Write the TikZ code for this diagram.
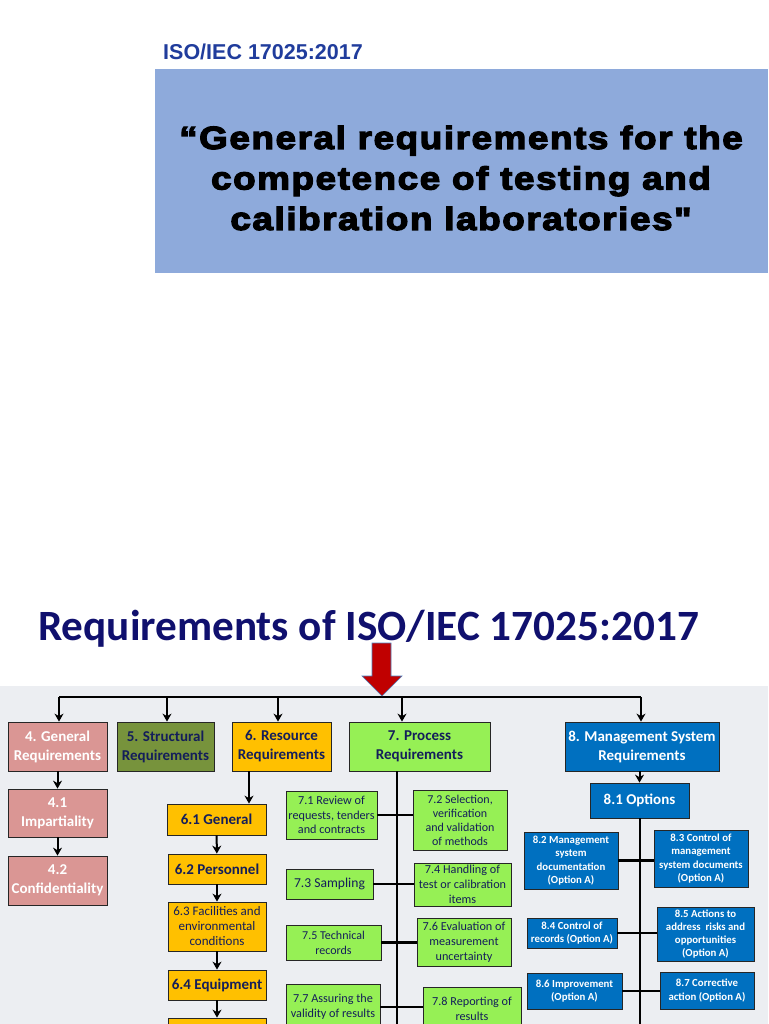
\documentclass[tikz,border=0pt]{standalone}
\usepackage{fontspec}
\setmainfont{Carlito}
\newfontfamily\arialfont{Liberation Sans}
\newfontfamily\quotefont{Liberation Sans Bold}[FakeStretch=1.15, FakeBold=4, LetterSpace=5]
\usetikzlibrary{arrows.meta}
\definecolor{isoblue}{RGB}{32,60,156}
\definecolor{headbg}{RGB}{142,170,219}
\definecolor{titlenavy}{RGB}{16,16,110}
\definecolor{boxnavy}{RGB}{20,30,90}
\definecolor{pinkbox}{RGB}{218,150,148}
\definecolor{olivebox}{RGB}{119,147,60}
\definecolor{amberbox}{RGB}{255,192,0}
\definecolor{greenbox}{RGB}{150,240,85}
\definecolor{bluebox}{RGB}{0,112,192}
\definecolor{arrowred}{RGB}{192,0,0}
\definecolor{arrowedge}{RGB}{79,129,189}
\definecolor{cloudbg}{RGB}{236,238,242}

\begin{document}
\begin{tikzpicture}[x=1pt, y=-1pt,
		box/.style={draw=black!85, line width=0.8pt, inner sep=1pt, align=center},
		sz/.style 2 args={minimum width=#1, minimum height=#2},
		pinkbx/.style={box, fill=pinkbox, text=white},
		olivebx/.style={box, fill=olivebox, text=boxnavy},
		amberbx/.style={box, fill=amberbox, text=boxnavy},
		greenbx/.style={box, fill=greenbox, text=boxnavy},
		bluebx/.style={box, fill=bluebox, text=white},
		big/.style={font=\bfseries\fontsize{15}{19}\selectfont},
		plain/.style={font=\fontsize{12.2}{14.8}\selectfont},
		tiny/.style={font=\bfseries\fontsize{10.8}{13.3}\selectfont},
		arr/.style={line width=2pt, -{Stealth[length=8pt, width=9pt]}},
		conn/.style={line width=2.8pt}]
		%%%%% START %%%%%
		
		\useasboundingbox (0,0) rectangle (768,1024);
		\clip (0,0) rectangle (768,1024);
		\fill[white] (0,0) rectangle (768,1024);
		\fill[cloudbg] (0,686) rectangle (768,1024);
		
		% header
		\node[anchor=base west, text=isoblue, font=\arialfont\bfseries\fontsize{21.5}{24}\selectfont, inner sep=0] (isotag) at (163,60) {ISO/IEC 17025:2017};
		\node[fill=headbg, anchor=north west, minimum width=613, minimum height=204, inner sep=0] (headbox) at (155,69) {};
		\node[align=center, font=\quotefont\fontsize{32}{40.5}\selectfont] (quote) at (461,178) {“General requirements for the\\competence of testing and\\calibration laboratories"};
		
		% title
		\node[anchor=base west, text=titlenavy, font=\bfseries\fontsize{43.2}{50}\selectfont, inner sep=0] (title) at (38,640) {Requirements of ISO/IEC 17025:2017};
		
		% bus and red arrow
		\coordinate (b4) at (59,697);
		\coordinate (b5) at (167,697);
		\coordinate (b6) at (278,697);
		\coordinate (b7) at (402,697);
		\coordinate (b8) at (641,697);
		\draw[line width=1.8pt] (b4) -- (b8);
		\fill[arrowred, draw=arrowedge, line width=0.6pt] (372,643) -- (391,643) -- (391,676) -- (402,676) -- (382,696) -- (362,676) -- (372,676) -- cycle;
		
		% clause 4
		\node[pinkbx, big, sz={99}{49}] (r4) at (57.5,746.5) {4. General\\Requirements};
		\node[pinkbx, big, sz={99}{48}] (r41) at (57.5,813) {4.1\\Impartiality};
		\node[pinkbx, big, sz={99}{49}] (r42) at (57.5,880.5) {4.2\\Confidentiality};
		
		% clause 5
		\node[olivebx, big, sz={97}{49}] (r5) at (165.5,746.5) {5. Structural\\Requirements};
		
		% clause 6
		\node[amberbx, big, sz={99}{49}] (r6) at (281.5,746.5) {6. Resource\\Requirements};
		\node[amberbx, big, sz={99}{31}] (r61) at (216.5,819.5) {6.1 General};
		\node[amberbx, big, sz={98}{30}] (r62) at (217,869) {6.2 Personnel};
		\node[amberbx, font=\fontsize{13}{15}\selectfont, sz={98}{49}] (r63) at (217,926.5) {6.3 Facilities and\\environmental\\conditions};
		\node[amberbx, big, sz={98}{30}] (r64) at (217,985) {6.4 Equipment};
		\node[amberbx, sz={98}{32}] (r65) at (217,1034) {};
		
		% clause 7
		\node[greenbx, big, sz={141}{49}] (r7) at (419.5,746.5) {7. Process\\Requirements};
		\node[greenbx, plain, sz={91}{48}] (r71) at (331.5,815) {7.1 Review of\\requests, tenders\\and contracts};
		\node[greenbx, font=\fontsize{12}{14}\selectfont, sz={94}{60}] (r72) at (460,820) {7.2 Selection,\\verification\\and validation\\of methods};
		\node[greenbx, font=\fontsize{13.6}{15}\selectfont, sz={87}{30}] (r73) at (329.5,884) {7.3 Sampling};
		\node[greenbx, plain, sz={97}{43}] (r74) at (462.5,884.5) {7.4 Handling of\\test or calibration\\items};
		\node[greenbx, font=\fontsize{12}{15}\selectfont, sz={95}{35}] (r75) at (333.5,942.5) {7.5 Technical\\records};
		\node[greenbx, plain, sz={94}{48}] (r76) at (464,942) {7.6 Evaluation of\\measurement\\uncertainty};
		\node[greenbx, plain, sz={94}{46}] (r77) at (333,1007) {7.7 Assuring the\\validity of results};
		\node[greenbx, plain, sz={98}{43}] (r78) at (472,1008.5) {7.8 Reporting of\\results};
		
		% clause 8
		\node[bluebx, big, sz={154}{49}] (r8) at (642,746.5) {8. Management System\\Requirements};
		\node[bluebx, big, sz={99}{35}] (r81) at (639.5,800.5) {8.1 Options};
		\node[bluebx, tiny, sz={94}{57}] (r82) at (571,860.5) {8.2 Management\\system\\documentation\\(Option A)};
		\node[bluebx, tiny, sz={94}{57}] (r83) at (701,858.5) {8.3 Control of\\management\\system documents\\(Option A)};
		\node[bluebx, tiny, sz={90}{30}] (r84) at (572,933) {8.4 Control of\\records (Option A)};
		\node[bluebx, tiny, sz={97}{54}] (r85) at (705.5,934) {8.5 Actions to\\address\ \ risks and\\opportunities\\(Option A)};
		\node[bluebx, tiny, sz={95}{36}] (r86) at (574.5,991) {8.6 Improvement\\(Option A)};
		\node[bluebx, tiny, sz={94}{37}] (r87) at (707,990.5) {8.7 Corrective\\action (Option A)};
		
		% arrows from the bus
		\draw[arr] (b4) -- (b4 |- r4.north);
		\draw[arr] (b5) -- (b5 |- r5.north);
		\draw[arr] (b6) -- (b6 |- r6.north);
		\draw[arr] (b7) -- (b7 |- r7.north);
		\draw[arr] (b8) -- (b8 |- r8.north);
		
		% chains
		\draw[arr] (r4) -- (r41);
		\draw[arr] (r41) -- (r42);
		\draw[arr] ([xshift=-32.5]r6.south) -- ([xshift=-32.5]r6.south |- r61.north);
		\draw[arr] (r61) -- (r62);
		\draw[arr] (r62) -- (r63);
		\draw[arr] (r63) -- (r64);
		\draw[arr] (r64) -- (r65);
		\draw[arr] (r8.south -| r81) -- (r81.north);
		
		% trunks
		\coordinate (t7) at (397,1030);
		\coordinate (t8) at (640,1030);
		\draw[conn] (r7.south -| t7) -- (t7);
		\draw[conn] (r81.south -| t8) -- (t8);
		\draw[conn] (r71.east) -- (r71.east -| r72.west);
		\draw[conn] (r73.east) -- (r73.east -| r74.west);
		\draw[conn] (r75.east) -- (r75.east -| r76.west);
		\draw[conn] (r77.east) -- (r77.east -| r78.west);
		\draw[conn] (r82.east) -- (r82.east -| r83.west);
		\draw[conn] (r84.east) -- (r84.east -| r85.west);
		\draw[conn] (r86.east) -- (r86.east -| r87.west);
		
		%%%%% END %%%%%
	\end{tikzpicture}
\end{document}
